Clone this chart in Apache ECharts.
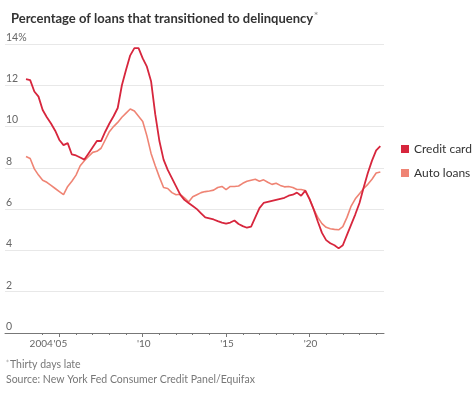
<!DOCTYPE html>
<html>
<head>
<meta charset="utf-8">
<script src="https://cdn.jsdelivr.net/npm/echarts@6/dist/echarts.min.js"></script>
<style>
  html, body { margin: 0; padding: 0; background: #fff; }
  #chart { width: 474px; height: 396px; }
</style>
</head>
<body>
<div id="chart"></div>
<script>
// Quarterly data, 2003 Q1 to 2024 Q2
const startYear = 2003;
const creditCard = [
    12.3, 12.25, 11.7, 11.45, 10.8, 10.45, 10.15, 9.8, 9.35, 9.1,
    9.2, 8.65, 8.6, 8.5, 8.4, 8.7, 9.0, 9.3, 9.3, 9.75,
    10.15, 10.5, 10.9, 12.0, 12.75, 13.45, 13.8, 13.8, 13.3, 12.9,
    12.2, 10.6, 9.3, 8.4, 7.9, 7.5, 7.1, 6.7, 6.45, 6.3,
    6.15, 6.0, 5.8, 5.6, 5.55, 5.5, 5.42, 5.35, 5.3, 5.35,
    5.45, 5.28, 5.18, 5.1, 5.15, 5.6, 6.05, 6.3, 6.35, 6.4,
    6.45, 6.5, 6.55, 6.65, 6.7, 6.8, 6.65, 6.9, 6.5, 6.0,
    5.4, 4.85, 4.5, 4.35, 4.25, 4.1, 4.25, 4.75, 5.25, 5.75,
    6.3, 7.05, 7.75, 8.35, 8.85, 9.05
];
const autoLoans = [
    8.55, 8.45, 7.95, 7.65, 7.4, 7.3, 7.15, 7.0, 6.85, 6.7,
    7.1, 7.35, 7.65, 8.1, 8.35, 8.55, 8.75, 8.8, 8.95, 9.35,
    9.75, 10.0, 10.2, 10.45, 10.65, 10.85, 10.75, 10.5, 10.25, 9.55,
    8.7, 8.1, 7.55, 7.05, 7.0, 6.8, 6.7, 6.72, 6.55, 6.35,
    6.6, 6.7, 6.8, 6.85, 6.88, 6.92, 7.05, 7.1, 6.95, 7.1,
    7.1, 7.12, 7.25, 7.35, 7.4, 7.45, 7.35, 7.42, 7.3, 7.2,
    7.25, 7.15, 7.08, 7.1, 7.05, 6.95, 6.95, 6.9, 6.5, 6.0,
    5.6, 5.3, 5.12, 5.05, 5.02, 5.0, 5.15, 5.6, 6.15, 6.5,
    6.75, 7.0, 7.2, 7.45, 7.75, 7.8
];
const seriesNames = ['Credit card', 'Auto loans'];
const yearTicks = [2004, 2005, 2006, 2007, 2008, 2009, 2010, 2011, 2012, 2013, 2014,
    2015, 2016, 2017, 2018, 2019, 2020, 2021, 2022, 2023, 2024];
const majorTicks = [2005, 2010, 2015, 2020];
const yearLabels = [2005, 2010, 2015, 2020];
const firstLabel = [2004];

const quarterX = (i) => startYear + i / 4;
const toPairs = (arr) => arr.map((v, i) => [quarterX(i), v]);

const colores = ['#d7263d', '#ef8474'];
const fuente = 'Lato, "Noto Sans", sans-serif';

const etiquetaX = {
    margin: 6,
    fontFamily: fuente,
    fontSize: 10,
    color: '#666',
    hideOverlap: false
};

const chart = echarts.init(document.getElementById('chart'));

const option = {
    animation: false,
    color: colores,
    title: {
        text: '{t|Percentage of loans that transitioned to delinquency}{s|*}',
        left: 6,
        top: 7,
        textStyle: {
            rich: {
                t: { fontFamily: fuente, fontSize: 13, fontWeight: 'bold', color: '#333' },
                s: { fontFamily: 'DejaVu Sans', fontSize: 7, color: '#999', verticalAlign: 'top', padding: [0, 0, 4, 1] }
            }
        }
    },
    legend: {
        orient: 'vertical',
        left: 396,
        top: 138,
        itemWidth: 8,
        itemHeight: 8,
        itemGap: 12,
        icon: 'rect',
        textStyle: { fontFamily: fuente, fontSize: 12, color: '#333' },
        data: seriesNames
    },
    grid: { left: 5, right: 90, top: 44, bottom: 63 },
    xAxis: [
        {
            type: 'value',
            min: 2001.74,
            max: 2024.47,
            splitLine: { show: false },
            axisLine: { show: true, lineStyle: { color: '#777', width: 1 } },
            axisTick: { show: true, customValues: yearTicks, length: 2, lineStyle: { color: '#777' } },
            axisLabel: Object.assign({
                customValues: yearLabels,
                padding: [0, 0, 0, 2],
                formatter: (v) => "'" + String(v).slice(2)
            }, etiquetaX)
        },
        {
            type: 'value',
            position: 'bottom',
            min: 2001.74,
            max: 2024.47,
            splitLine: { show: false },
            axisLine: { show: false },
            axisTick: { show: true, customValues: majorTicks, length: 4, lineStyle: { color: '#777' } },
            axisLabel: Object.assign({
                customValues: firstLabel,
                padding: [0, 3, 0, 0],
                formatter: (v) => String(v)
            }, etiquetaX)
        }
    ],
    yAxis: {
        type: 'value',
        min: 0,
        max: 14,
        interval: 2,
        axisLine: { show: false },
        axisTick: { show: false },
        splitLine: { lineStyle: { color: '#e8e8e8', width: 1 } },
        axisLabel: {
            inside: true,
            margin: 1,
            verticalAlign: 'bottom',
            padding: [0, 0, 1, 0],
            fontFamily: fuente,
            fontSize: 10.5,
            color: '#666',
            formatter: (v) => v === 14 ? '14%' : String(v)
        }
    },
    graphic: [
        {
            type: 'text',
            left: 6,
            top: 359,
            style: {
                text: '{s|*}{t|Thirty days late}',
                rich: {
                    t: { fontFamily: fuente, fontSize: 10.5, fill: '#777' },
                    s: { fontFamily: 'DejaVu Sans', fontSize: 6, fill: '#999', verticalAlign: 'top', padding: [0, 1, 3, 0] }
                }
            }
        },
        {
            type: 'text',
            left: 6,
            top: 374,
            style: {
                text: 'Source: New York Fed Consumer Credit Panel/Equifax',
                fontFamily: fuente,
                fontSize: 10.5,
                fill: '#777'
            }
        }
    ],
    series: [
        {
            name: seriesNames[1],
            type: 'line',
            data: toPairs(autoLoans),
            showSymbol: false,
            color: colores[1],
            lineStyle: { width: 1.6, color: colores[1] },
            z: 2
        },
        {
            name: seriesNames[0],
            type: 'line',
            data: toPairs(creditCard),
            showSymbol: false,
            color: colores[0],
            lineStyle: { width: 1.8, color: colores[0] },
            z: 3
        }
    ]
};

chart.setOption(option);
</script>
</body>
</html>
